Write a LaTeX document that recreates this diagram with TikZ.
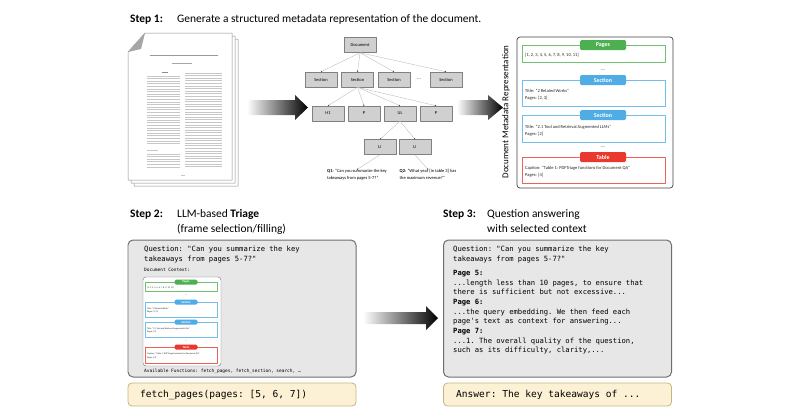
\documentclass[tikz,border=0pt]{standalone}
\usepackage{fontspec}
\setmainfont{Carlito}
\setmonofont{DejaVu Sans Mono}
\usetikzlibrary{arrows.meta}

\definecolor{tabgreen}{RGB}{76,175,80}
\definecolor{tabblue}{RGB}{79,172,228}
\definecolor{tabred}{RGB}{234,56,46}
\definecolor{boxgray}{RGB}{231,231,231}
\definecolor{boxline}{RGB}{110,110,110}
\definecolor{answeryellow}{RGB}{252,241,212}
\definecolor{answerline}{RGB}{200,180,130}
\definecolor{treefill}{RGB}{208,208,208}

\tikzset{
	steplabel/.style={anchor=base west, inner sep=0, font=\fontsize{11.5}{14}\selectfont},
	treebox/.style={draw=black!50, fill=treefill, line width=0.5, minimum width=32bp, minimum height=15bp, inner sep=0, font=\fontsize{4.5}{5}\selectfont},
	treeedge/.style={draw=black!25, line width=0.4, -{Circle[length=1.3pt, color=black!70]}},
	qtext/.style={anchor=north, inner sep=0, align=left, font=\fontsize{4.5}{6.5}\selectfont},
	pagetext/.style={draw=black!22, line width=0.7},
	metatab/.style={rounded corners=1.5, minimum width=46bp, minimum height=10bp, inner sep=0, text=white, font=\fontsize{6}{7}\selectfont\bfseries},
	metatext/.style={anchor=west, inner sep=0, align=left, text=black!85, font=\fontsize{4.5}{7.5}\selectfont},
	stepbox/.style={draw=boxline, fill=boxgray, rounded corners=5, line width=1, minimum width=228bp, minimum height=137bp},
	answerbox/.style={draw=answerline, fill=answeryellow, rounded corners=4, line width=0.8, minimum width=228bp, minimum height=23bp},
	code/.style={anchor=north west, inner sep=0, align=left, font=\fontsize{7.2}{9.7}\ttfamily},
	smallcode/.style={anchor=west, inner sep=0, font=\fontsize{4.5}{5}\ttfamily},
	bigcode/.style={anchor=west, inner sep=0, font=\fontsize{9.6}{11}\ttfamily}
}

% start x, tip x, mid y, shaft half, head half, head length
\newcommand{\fadearrow}[6]{%
	\shade[left color=white, middle color=black!85, right color=black]
	(#1,#3-#4) -- (#2-#6,#3-#4) -- (#2-#6,#3-#5) -- (#2,#3) -- (#2-#6,#3+#5) -- (#2-#6,#3+#4) -- (#1,#3+#4) -- cycle;}

% name, colour, label, top, bottom, text
\newcommand{\metaentry}[6]{%
	\draw[#2!80, line width=0.6, fill=white] (5,#4) rectangle (148,#5);
	\node[metatab, fill=#2] (#1) at (86,#4) {#3};
	\node[metatext] (#1-txt) at (8,{(#4+#5)/2+2}) {#6};}

\begin{document}
\begin{tikzpicture}[x=1bp, y=-1bp, line join=round]
	\useasboundingbox (0,0) rectangle (800,418);
	% titles
	\node[steplabel] (s1) at (130,22) {\textbf{Step 1:}};
	\node[steplabel] (s1txt) at (177,22) {Generate a structured metadata representation of the document.};
	\node[steplabel] (s2) at (130,217) {\textbf{Step 2:}};
	\node[steplabel] (s2txt) at (177,217) {LLM-based \textbf{Triage}};
	\node[steplabel] (s2sub) at (177,232) {(frame selection/filling)};
	\node[steplabel] (s3) at (443,217) {\textbf{Step 3:}};
	\node[steplabel] (s3txt) at (487,217) {Question answering};
	\node[steplabel] (s3sub) at (487,232) {with selected context};
	% the document
	\foreach \d in {6,3,0}
		\draw[black!45, line width=0.5, fill=white] (145+\d,33+\d) -- (232+\d,33+\d) -- (232+\d,180+\d) -- (128+\d,180+\d) -- (128+\d,52+\d) -- cycle;
	\fill[black!35] (128,52) -- (145,33) -- (141,49) -- cycle;
	\draw[black!40, line width=0.8] (150,55) -- (218,55);
	\draw[black!35, line width=0.6] (172,63) -- (192,63);
	\draw[black!45, line width=0.6] (162,72) -- (168,72);
	\foreach \y in {76,78.6,...,146} \draw[pagetext] (147,\y) -- (180,\y);
	\draw[pagetext] (147,150) -- (158,150);
	\foreach \y in {154,156.6,...,168} \draw[pagetext] (147,\y) -- (180,\y);
	\foreach \y in {73,75.6,...,168} \draw[pagetext] (185,\y) -- (222,\y);
	\draw[pagetext] (181,175) -- (185,175);
	% tree
	\node[treebox] (doc) at (360,45) {Document};
	\node[treebox] (sec1) at (321,79.5) {Section};
	\node[treebox] (sec2) at (357.5,79.5) {Section};
	\node[treebox] (sec3) at (394,79.5) {Section};
	\node[font=\fontsize{5}{6}\selectfont] (secdots) at (419,79.5) {...};
	\node[treebox] (sec4) at (446,79.5) {Section};
	\node[treebox] (h1) at (328,113.5) {H1};
	\node[treebox] (p1) at (364,113.5) {P};
	\node[treebox] (ul) at (400,113.5) {UL};
	\node[treebox] (p2) at (436,113.5) {P};
	\node[treebox] (li1) at (380,147) {LI};
	\node[treebox] (li2) at (415,147) {LI};
	\node[qtext] (q1) at (357,169.5) {\textbf{Q1}: “Can you summarize the key\\takeaways from pages 5-7?”};
	\node[qtext] (q2) at (428,169.5) {\textbf{Q2}: “What year [in table 3] has\\the maximum revenue?”};
	\foreach \s in {sec1,sec2,sec3,sec4} \draw[treeedge] (doc.south) -- (\s.north);
	\foreach \s in {h1,p1,ul,p2} \draw[treeedge] (sec2.south) -- (\s.north);
	\foreach \s in {li1,li2} \draw[treeedge] (ul.south) -- (\s.north);
	\draw[treeedge] (li1.south) -- (q1.north);
	\draw[treeedge] (li2.south) -- (q2.north);
	% arrows
	\fadearrow{247}{308}{107.5}{7.5}{12.5}{13}
	\fadearrow{457}{503}{107.5}{7.5}{12.5}{15}
	\fadearrow{363}{438}{318}{6}{12}{12}
	% metadata
	\node[rotate=90, font=\fontsize{9}{10}\selectfont] (metalabel) at (506,112) {Document Metadata Representation};
	\begin{scope}[shift={(517,37)}]
		\draw[rounded corners=3, line width=0.7, black!75] (0,0) rectangle (156,151);
		\metaentry{pages}{tabgreen}{Pages}{8}{25}{[1, 2, 3, 4, 5, 6, 7, 8, 9, 10, 11]}
		\node[font=\fontsize{5}{6}\selectfont] (dotsA) at (86,33) {...};
		\metaentry{secA}{tabblue}{Section}{43}{69}{Title: “2 Related Works”\\Pages: [2, 3]}
		\metaentry{secB}{tabblue}{Section}{78}{105}{Title: “2.1 Tool and Retrieval Augmented LLMs”\\Pages: [2]}
		\node[font=\fontsize{5}{6}\selectfont] (dotsB) at (86,110) {...};
		\metaentry{table}{tabred}{Table}{120}{146}{Caption: “Table 1: PDFTriage functions for Document QA”\\Pages: [4]}
	\end{scope}
	% step 2
	\node[stepbox] (triage) at (242,308.5) {};
	\node[code] (question) at (144,246) {Question: "Can you summarize the key\\takeaways from pages 5-7?"};
	\node[smallcode] (ctxlabel) at (144,270) {Document Context:};
	\begin{scope}[shift={(143,277)}, scale=0.5, transform shape]
		\draw[rounded corners=3, line width=0.4, black!55, fill=white] (0,0) rectangle (156,178);
		\metaentry{mpages}{tabgreen}{Pages}{10}{28}{[1, 2, 3, 4, 5, 6, 7, 8, 9, 10, 11]}
		\node[font=\fontsize{5}{6}\selectfont] (mdotsA) at (86,36) {...};
		\metaentry{msecA}{tabblue}{Section}{50}{80}{Title: “2 Related Works”\\Pages: [2, 3]}
		\metaentry{msecB}{tabblue}{Section}{90}{120}{Title: “2.1 Tool and Retrieval Augmented LLMs”\\Pages: [2]}
		\node[font=\fontsize{5}{6}\selectfont] (mdotsB) at (86,128) {...};
		\metaentry{mtable}{tabred}{Table}{140}{172}{Caption: “Table 1: PDFTriage functions for Document QA”\\Pages: [4]}
	\end{scope}
	\node[smallcode] (functions) at (144,371) {Available Functions: fetch\_pages, fetch\_section, search, \ldots};
	\node[answerbox] (call) at (242,394.5) {};
	\node[bigcode] (calltxt) at (140,394.5) {fetch\_pages(pages: [5, 6, 7])};
	% step 3
	\node[stepbox] (answering) at (557.5,308.5) {};
	\node[code] (context) at (453,246) {Question: "Can you summarize the key\\takeaways from pages 5-7?"\\[4.5bp]
		\textbf{Page 5:}\\...length less than 10 pages, to ensure that\\there is sufficient but not excessive...\\
		\textbf{Page 6:}\\...the query embedding. We then feed each\\page's text as context for answering...\\
		\textbf{Page 7:}\\...1. The overall quality of the question,\\such as its difficulty, clarity,...};
	\node[answerbox] (answer) at (557.5,394.5) {};
	\node[bigcode] (answertxt) at (456,394.5) {Answer: The key takeaways of ...};
\end{tikzpicture}
\end{document}
